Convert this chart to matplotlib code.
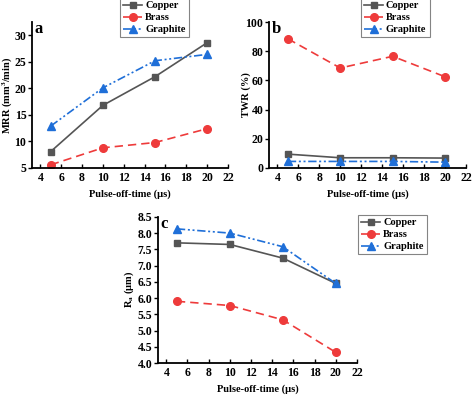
import matplotlib
matplotlib.use("Agg")
import matplotlib.pyplot as plt

x = [5, 10, 15, 20]
series_names = ["Copper", "Brass", "Graphite"]

mrr_copper = [8.1, 16.8, 22.2, 28.6]
mrr_brass = [5.6, 8.8, 9.8, 12.4]
mrr_graphite = [12.9, 20.1, 25.2, 26.4]

twr_copper = [9.5, 7.0, 7.0, 6.8]
twr_brass = [88.5, 68.5, 76.5, 62.5]
twr_graphite = [4.5, 4.5, 4.5, 4.0]

ra_copper = [7.70, 7.65, 7.23, 6.45]
ra_brass = [5.90, 5.77, 5.33, 4.33]
ra_graphite = [8.13, 8.00, 7.58, 6.45]

xticks = [4, 6, 8, 10, 12, 14, 16, 18, 20, 22]

plt.rcParams['font.family'] = ['Liberation Serif', 'DejaVu Serif']
plt.rcParams['font.weight'] = 'bold'
plt.rcParams['axes.labelweight'] = 'bold'
plt.rcParams['mathtext.fontset'] = 'custom'
plt.rcParams['mathtext.rm'] = 'Liberation Serif:bold'
plt.rcParams['mathtext.it'] = 'Liberation Serif:bold'
plt.rcParams['mathtext.bf'] = 'Liberation Serif:bold'

c_cu = '#555555'
c_br = '#ee3b3b'
c_gr = '#1f6fd8'
dashdotdot = (0, (5, 1.6, 1.2, 1.6, 1.2, 1.6))

fig = plt.figure(figsize=(4.74, 3.95), dpi=100)

def make(ax_rect, ys, ylim, yticks, ylabel, letter, legend_rect, label_x, yfmt=None):
    ax = fig.add_axes(ax_rect)
    cu, br, gr = ys
    ax.plot(x, cu, color=c_cu, lw=1.2, marker='s', ms=5, label=series_names[0])
    ax.plot(x, br, color=c_br, lw=1.2, ls=(0, (5, 3)), marker='o', ms=5.5, label=series_names[1])
    ax.plot(x, gr, color=c_gr, lw=1.2, ls=dashdotdot, marker='^', ms=5.5, label=series_names[2])
    ax.set_xlim(3.2, 22)
    ax.set_ylim(*ylim)
    ax.set_xticks(xticks)
    ax.set_yticks(yticks)
    if yfmt:
        ax.set_yticklabels([yfmt.format(v) for v in yticks])
    for s in ['top', 'right']:
        ax.spines[s].set_visible(False)
    for s in ['left', 'bottom']:
        ax.spines[s].set_linewidth(1.3)
    ax.tick_params(axis='x', direction='in', length=3, width=1, labelsize=8.5, pad=3)
    ax.tick_params(axis='y', direction='out', length=3, width=1, labelsize=8.5, pad=1)
    for lab in ax.get_xticklabels() + ax.get_yticklabels():
        lab.set_fontweight('bold')
    ax.set_xlabel("Pulse-off-time (μs)", fontsize=7.5, fontweight='bold', labelpad=4)
    ax.set_ylabel(ylabel, fontsize=7.5, fontweight='bold')
    ax.yaxis.set_label_coords(label_x, 0.5)
    ax.text(0.012, 1.005, letter, transform=ax.transAxes, fontsize=12, fontweight='bold',
            va='top', ha='left')
    leg = ax.legend(loc='upper left', bbox_to_anchor=legend_rect, bbox_transform=fig.transFigure,
                    fontsize=7.5, frameon=True, fancybox=False, handlelength=1.8,
                    handletextpad=0.3, labelspacing=0.25, borderpad=0.3, borderaxespad=0)
    leg.get_frame().set_edgecolor('#666666')
    leg.get_frame().set_linewidth(0.8)
    for t in leg.get_texts():
        t.set_fontweight('bold')
    return ax

make([0.0675, 0.5747, 0.4135, 0.3696], (mrr_copper, mrr_brass, mrr_graphite),
     (5, 32.5), [5, 10, 15, 20, 25, 30], "MRR (mm$^3$/min)", "a",
     (120 / 474, 1 + 2 / 395), -0.092)
make([0.5675, 0.5747, 0.4156, 0.3696], (twr_copper, twr_brass, twr_graphite),
     (0, 100), [0, 20, 40, 60, 80, 100], "TWR (%)", "b",
     (361 / 474, 1 + 2 / 395), -0.091)
make([0.333, 0.081, 0.42, 0.37], (ra_copper, ra_brass, ra_graphite),
     (4.0, 8.5), [4.0, 4.5, 5.0, 5.5, 6.0, 6.5, 7.0, 7.5, 8.0, 8.5], "R$_a$ (μm)", "c",
     (358 / 474, 1 - 215 / 395), -0.11, yfmt="{:.1f}")

fig.savefig("out.png", dpi=100)
